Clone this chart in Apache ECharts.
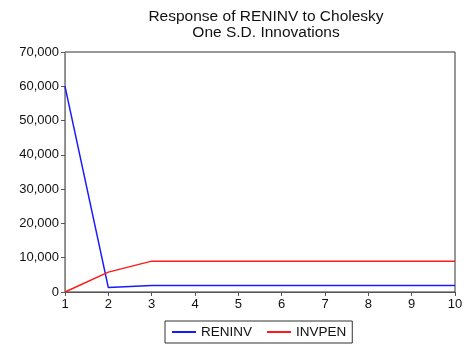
<!DOCTYPE html>
<html>
<head>
<meta charset="utf-8">
<script src="https://cdn.jsdelivr.net/npm/echarts@6/dist/echarts.min.js"></script>
<style>
html, body { margin: 0; padding: 0; background: #fff; }
#chart { width: 474px; height: 354px; }
</style>
</head>
<body>
<div id="chart"></div>
<script>
// periods and responses
var periods = [1, 2, 3, 4, 5, 6, 7, 8, 9, 10];
var reninv = [60000, 1300, 1900, 1900, 1900, 1900, 1900, 1900, 1900, 1900];
var invpen = [0, 5800, 9000, 9000, 9000, 9000, 9000, 9000, 9000, 9000];

function pairs(xs, ys) {
  var out = [];
  for (var i = 0; i < xs.length; i++) {
    out.push([xs[i], ys[i]]);
  }
  return out;
}

var chart = echarts.init(document.getElementById('chart'));
var option = {
  animation: false,
  textStyle: { fontFamily: 'Liberation Sans' },
  title: {
    text: 'Response of RENINV to Cholesky\nOne S.D. Innovations',
    left: 261,
    textAlign: 'center',
    top: 4,
    textStyle: { fontSize: 15.5, fontWeight: 'normal', color: '#111', lineHeight: 16 }
  },
  legend: {
    top: 321,
    left: 165,
    itemWidth: 24,
    itemHeight: 2,
    itemGap: 14,
    borderColor: '#333',
    borderWidth: 1,
    padding: [4, 6, 4, 6],
    textStyle: { fontSize: 13.5, color: '#111' },
    data: ['RENINV', 'INVPEN']
  },
  grid: {
    left: 65,
    right: 19,
    top: 52,
    bottom: 62,
    show: true,
    borderColor: '#333',
    borderWidth: 1
  },
  xAxis: {
    type: 'value',
    min: 1,
    max: 10,
    interval: 1,
    splitLine: { show: false },
    axisLine: { lineStyle: { color: '#555' } },
    axisTick: { length: 4, lineStyle: { color: '#555' } },
    axisLabel: { fontSize: 13, color: '#111', margin: 6 }
  },
  yAxis: {
    type: 'value',
    min: 0,
    max: 70000,
    interval: 10000,
    splitLine: { show: false },
    axisLine: { show: true, lineStyle: { color: '#888' } },
    axisTick: { show: true, length: 4, lineStyle: { color: '#555' } },
    axisLabel: {
      fontSize: 13,
      color: '#111',
      margin: 6,
      formatter: function (v) { return v.toLocaleString('en-US'); }
    }
  },
  series: [
    {
      name: 'RENINV',
      type: 'line',
      symbol: 'none',
      data: pairs(periods, reninv),
      lineStyle: { color: '#1a1aff', width: 1.5 },
      itemStyle: { color: '#1a1aff' }
    },
    {
      name: 'INVPEN',
      type: 'line',
      symbol: 'none',
      data: pairs(periods, invpen),
      lineStyle: { color: '#ff1a1a', width: 1.5 },
      itemStyle: { color: '#ff1a1a' }
    }
  ]
};
chart.setOption(option);
</script>
</body>
</html>
